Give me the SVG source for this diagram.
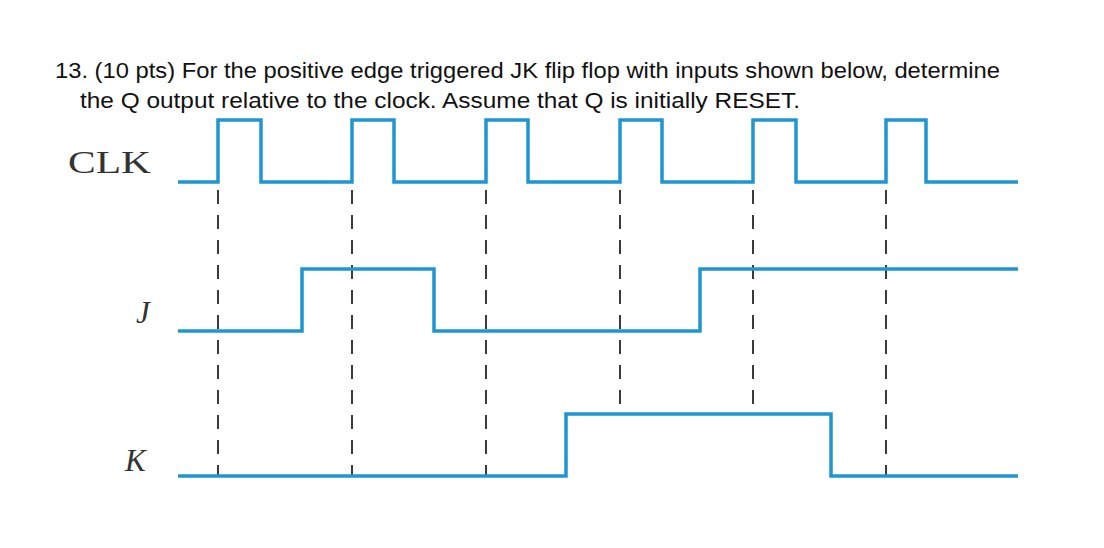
<svg xmlns="http://www.w3.org/2000/svg" width="1104" height="548" viewBox="0 0 1104 548">
<style>
.sig{fill:none;stroke:#1f95d3;stroke-width:3.5}
.dash{stroke:#3a3a3a;stroke-width:2;stroke-dasharray:14 11}
.q{font-family:"Liberation Sans",Arial,sans-serif;font-size:22px;fill:#111}
.lbl{font-family:"Liberation Serif","Times New Roman",serif;font-size:31px;fill:#333}
</style>
<rect width="1104" height="548" fill="#fff"/>
<text class="q" x="55" y="78" textLength="945" lengthAdjust="spacingAndGlyphs">13. (10 pts) For the positive edge triggered JK flip flop with inputs shown below, determine</text>
<text class="q" x="80" y="108" textLength="720" lengthAdjust="spacingAndGlyphs">the Q output relative to the clock.  Assume that Q is initially RESET.</text>
<g id="labels">
<text class="lbl" x="68" y="173" textLength="83" lengthAdjust="spacingAndGlyphs">CLK</text>
<text class="lbl" x="136" y="323" font-style="italic">J</text>
<text class="lbl" x="125" y="471" font-style="italic">K</text>
</g>
<g id="connectors">
<line class="dash" x1="218" y1="190" x2="218" y2="476"/>
<line class="dash" x1="352" y1="190" x2="352" y2="476"/>
<line class="dash" x1="486" y1="190" x2="486" y2="476"/>
<line class="dash" x1="620" y1="190" x2="620" y2="414"/>
<line class="dash" x1="753" y1="190" x2="753" y2="414"/>
<line class="dash" x1="886" y1="190" x2="886" y2="476"/>
</g>
<g id="clk">
<path class="sig" d="M178 182H218V120H261V182H352V120H394V182H486V120H528V182H620V120H662V182H753V120H796V182H886V120H926V182H1018"/>
</g>
<g id="j">
<path class="sig" d="M178 331H302V269H434V331H700V269H1018"/>
</g>
<g id="k">
<path class="sig" d="M178 476H566V414H831V476H1018"/>
</g>
</svg>
